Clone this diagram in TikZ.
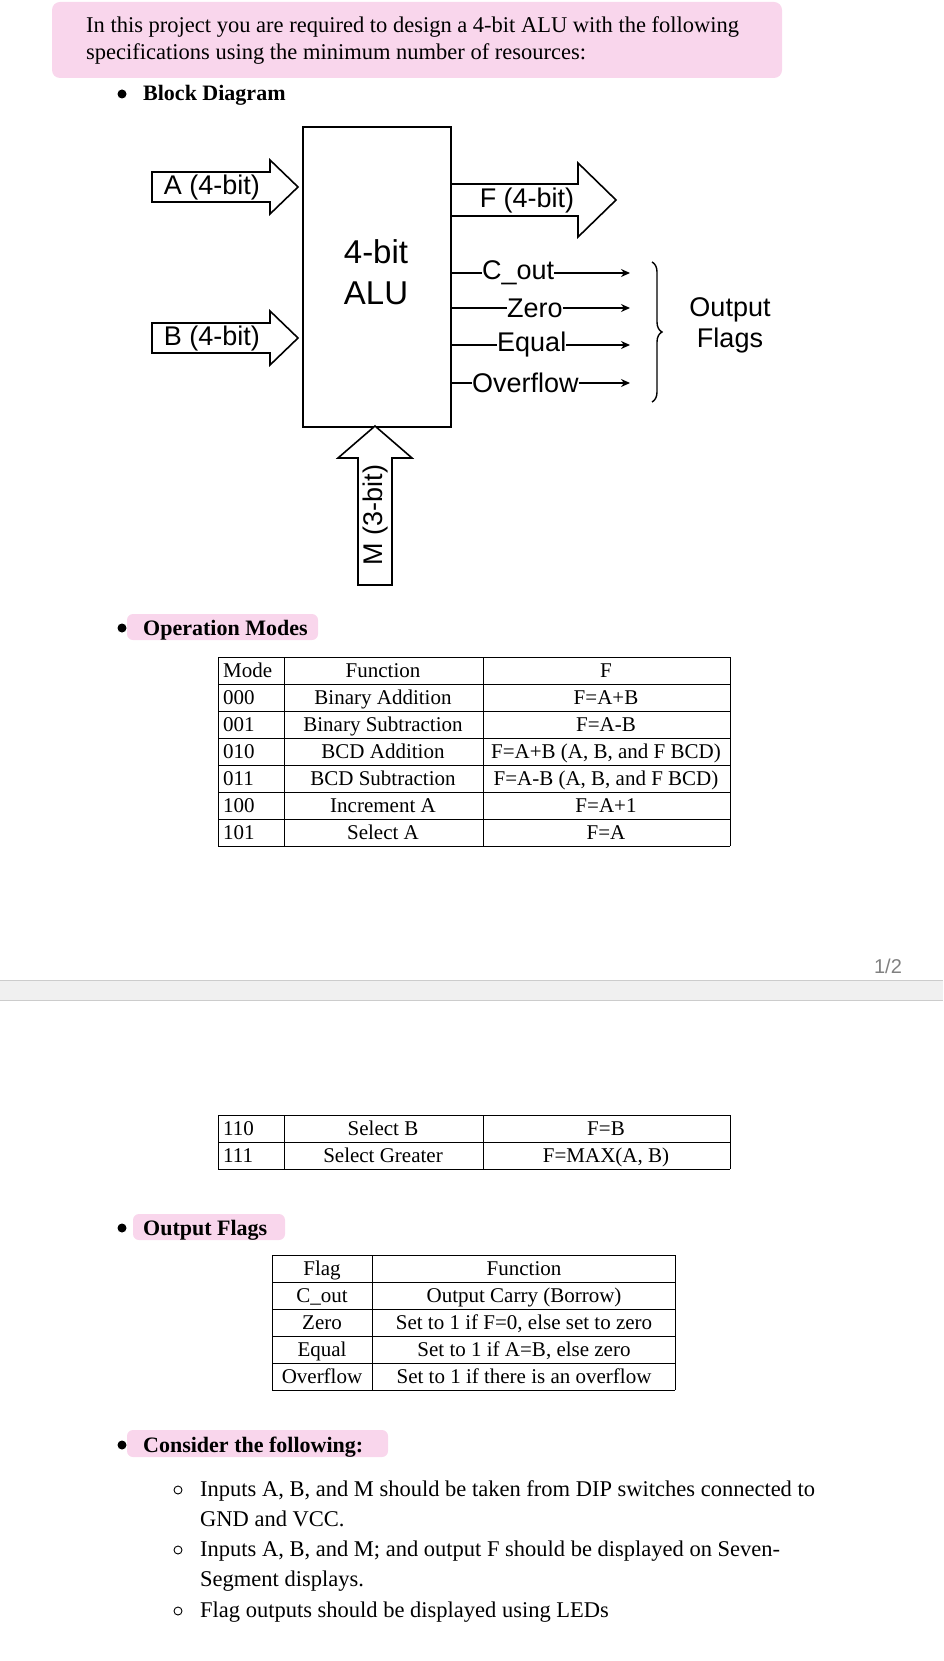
\documentclass[tikz,border=0pt]{standalone}
\usepackage{fontspec}
\setmainfont{Liberation Serif}
\newfontfamily\arial{Liberation Sans}
\usetikzlibrary{decorations.pathreplacing,arrows.meta}
\definecolor{hl}{HTML}{F9D6EC}
\begin{document}
\begin{tikzpicture}[x=1pt,y=-1pt,
  body/.style={anchor=base west,font=\fontsize{22.5}{26}\selectfont,inner sep=0},
  dia/.style={font=\arial\fontsize{27}{31}\selectfont,inner sep=0},
  tab/.style={font=\fontsize{21}{24}\selectfont,inner sep=0},
  bigarrow/.style={draw,line width=1.6pt,fill=white},
  thin/.style={line width=0.8pt}]
\useasboundingbox (0,0) rectangle (943,1661);
% highlights
\fill[hl,rounded corners=8pt] (52,2) rectangle (782,78);
\fill[hl,rounded corners=6pt] (127,614) rectangle (318,640);
\fill[hl,rounded corners=6pt] (133,1214) rectangle (285,1240);
\fill[hl,rounded corners=6pt] (127,1430) rectangle (388,1457);
\node[body] (t1) at (86,33) {In this project you are required to design a 4-bit ALU with the following};
\node[body] (t2) at (86,60) {specifications using the minimum number of resources:};
% bullets
\foreach \y/\txt [count=\i] in {101/Block Diagram,635/Operation Modes,1235/Output Flags,1452/Consider the following:}{
  \fill (122,\y-7) circle (4.5pt);
  \node[body,font=\bfseries\fontsize{22}{26}\selectfont] (b\i) at (143,\y) {\txt};
}
% ALU
\node[draw,line width=1.6pt,minimum width=148pt,minimum height=300pt,anchor=north west,inner sep=0] (alu) at (302,126) {};
\node[dia,font=\arial\fontsize{33}{37}\selectfont,align=center] (alut) at (376,272) {4-bit\\[4pt]ALU};
% A arrow
\draw[bigarrow] (152,172) -- (270,172) -- (270,160) -- (298,187) -- (270,214) -- (270,202) -- (152,202) -- cycle;
\node[dia] (A) at (212,188) {A (4-bit)};
\draw[bigarrow] (152,323) -- (270,323) -- (270,311) -- (298,338) -- (270,365) -- (270,353) -- (152,353) -- cycle;
\node[dia] (B) at (212,339) {B (4-bit)};
% F arrow
\draw[bigarrow] (451,184) -- (578,184) -- (578,163) -- (616,200) -- (578,237) -- (578,216) -- (451,216) -- cycle;
\node[dia] (F) at (527,201) {F (4-bit)};
% M arrow
\draw[bigarrow] (358,585) -- (358,458) -- (338,458) -- (375,426) -- (412,458) -- (392,458) -- (392,585) -- cycle;
\node[dia,rotate=90] (M) at (376,515) {M (3-bit)};
% flags
\node[dia,anchor=west] (co) at (482,273) {C\_out};
\node[dia,anchor=west] (ze) at (507,308) {Zero};
\node[dia,anchor=west] (eq) at (497,345) {Equal};
\node[dia,anchor=west] (ov) at (472,383) {Overflow};
\foreach \n in {co,ze,eq,ov}{
  \coordinate (s\n) at (alu.east |- \n.west);
  \coordinate (e\n) at (630,0 |- \n.east);
  \draw[line width=1.4pt] (s\n) -- (\n.west);
  \draw[line width=1.4pt,-{Stealth[length=9pt,width=8pt]}] (\n.east) -- (e\n);
}
\draw[line width=1.4pt,decorate,decoration={brace,amplitude=10pt}] (652,262) -- (652,402);
\node[dia,align=center] (of) at (730,325) {Output\\Flags};
% table 1
\foreach \y in {657,684,711,738,765,792,819,846}{\draw[thin] (218,\y) -- (730,\y);}
\foreach \x in {218,284,483,730}{\draw[thin] (\x,657) -- (\x,846);}
\foreach \m/\f/\g [count=\i] in {Mode/Function/F,000/Binary Addition/F=A+B,001/Binary Subtraction/F=A-B,010/BCD Addition/{F=A+B (A, B, and F BCD)},011/BCD Subtraction/{F=A-B (A, B, and F BCD)},100/Increment A/F=A+1,101/Select A/F=A}{
  \node[tab,anchor=base west] (m\i) at (223,650+27*\i) {\m};
  \node[tab,anchor=base] (f\i) at (383,650+27*\i) {\f};
  \node[tab,anchor=base] (g\i) at (606,650+27*\i) {\g};
}
% page break
\node[font=\arial\fontsize{20}{24}\selectfont,text=gray,inner sep=0] (pg) at (888,966) {1/2};
\fill[gray!12] (0,980) rectangle (943,1000);
\draw[gray!40] (0,980) -- (943,980);
\draw[gray!40] (0,1000) -- (943,1000);
% table cont
\foreach \y in {1115,1142,1169}{\draw[thin] (218,\y) -- (730,\y);}
\foreach \x in {218,284,483,730}{\draw[thin] (\x,1115) -- (\x,1169);}
\node[tab,anchor=base west] (m8) at (223,1135) {110};
\node[tab,anchor=base] (f8) at (383,1135) {Select B};
\node[tab,anchor=base] (g8) at (606,1135) {F=B};
\node[tab,anchor=base west] (m9) at (223,1162) {111};
\node[tab,anchor=base] (f9) at (383,1162) {Select Greater};
\node[tab,anchor=base] (g9) at (606,1162) {F=MAX(A, B)};
% table 2
\foreach \y in {1255,1282,1309,1336,1363,1390}{\draw[thin] (272,\y) -- (675,\y);}
\foreach \x in {272,372,675}{\draw[thin] (\x,1255) -- (\x,1390);}
\foreach \a/\b [count=\i] in {Flag/Function,C\_out/Output Carry (Borrow),Zero/{Set to 1 if F=0, else set to zero},Equal/{Set to 1 if A=B, else zero},Overflow/Set to 1 if there is an overflow}{
  \node[tab,anchor=base] (p\i) at (322,1248+27*\i) {\a};
  \node[tab,anchor=base] (q\i) at (524,1248+27*\i) {\b};
}
% sub bullets
\foreach \y in {1496,1556,1617}{\draw[line width=0.9pt] (178,\y-6) circle (4pt);}
\node[body] (c1) at (200,1496) {Inputs A, B, and M should be taken from DIP switches connected to};
\node[body] (c2) at (200,1526) {GND and VCC.};
\node[body] (c3) at (200,1556) {Inputs A, B, and M; and output F should be displayed on Seven-};
\node[body] (c4) at (200,1586) {Segment displays.};
\node[body] (c5) at (200,1617) {Flag outputs should be displayed using LEDs};
\end{tikzpicture}
\end{document}
